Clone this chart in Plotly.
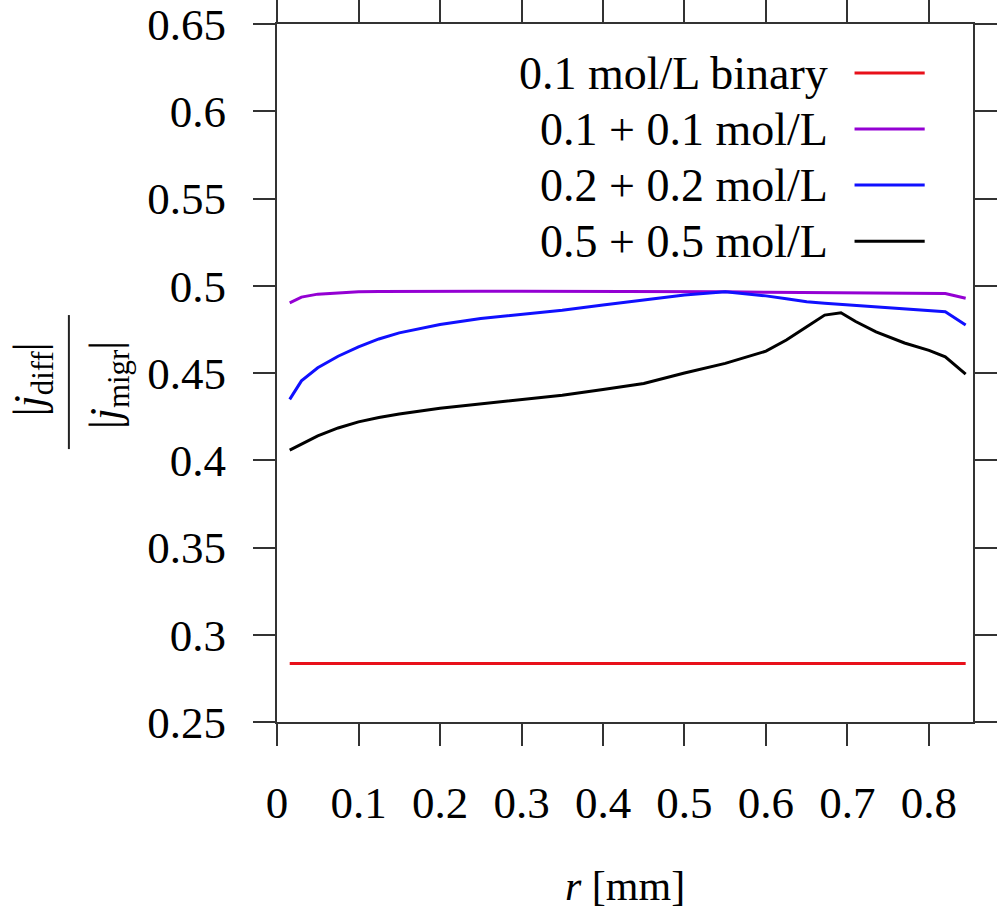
import plotly.graph_objects as go

r_mm = [0.0156, 0.03, 0.05, 0.075, 0.1, 0.125, 0.15, 0.2, 0.25, 0.3, 0.35, 0.4, 0.45,
        0.5, 0.55, 0.6, 0.625, 0.65, 0.672, 0.692, 0.71, 0.735, 0.77, 0.8, 0.82, 0.845]

binary_01 = [0.2835] * len(r_mm)
mix_01 = [0.4902, 0.4935, 0.4952, 0.4960, 0.4965, 0.4967, 0.4968, 0.4970, 0.4969, 0.4968,
          0.4968, 0.4967, 0.4967, 0.4966, 0.4965, 0.4963, 0.4962, 0.4961, 0.4960, 0.4959,
          0.4958, 0.4958, 0.4957, 0.4956, 0.4955, 0.4928]
mix_02 = [0.4349, 0.4455, 0.4530, 0.4596, 0.4650, 0.4695, 0.4730, 0.4778, 0.4812, 0.4836,
          0.4860, 0.4890, 0.4918, 0.4947, 0.4966, 0.4942, 0.4925, 0.4908, 0.4900, 0.4893,
          0.4888, 0.4880, 0.4868, 0.4858, 0.4851, 0.4775]
mix_05 = [0.4058, 0.4092, 0.4140, 0.4185, 0.4220, 0.4245, 0.4265, 0.4298, 0.4322, 0.4348,
          0.4372, 0.4405, 0.4440, 0.4500, 0.4555, 0.4625, 0.4689, 0.4765, 0.4832, 0.4845,
          0.4795, 0.4736, 0.4672, 0.4630, 0.4593, 0.4494]

names = ["0.1 mol/L binary", "0.1 + 0.1 mol/L", "0.2 + 0.2 mol/L", "0.5 + 0.5 mol/L"]
series = [binary_01, mix_01, mix_02, mix_05]
colors = ["#e8101a", "#9400d3", "#1010ff", "#000000"]

x_ticks = [0, 0.1, 0.2, 0.3, 0.4, 0.5, 0.6, 0.7, 0.8]
x_tick_labels = ["0", "0.1", "0.2", "0.3", "0.4", "0.5", "0.6", "0.7", "0.8"]
y_ticks = [0.25, 0.3, 0.35, 0.4, 0.45, 0.5, 0.55, 0.6, 0.65]
y_tick_labels = ["0.25", "0.3", "0.35", "0.4", "0.45", "0.5", "0.55", "0.6", "0.65"]

FONT = "Liberation Serif"
AX = "#333333"

fig = go.Figure()
for name, ys, c in zip(names, series, colors):
    fig.add_trace(go.Scatter(x=r_mm, y=ys, mode="lines", name=name,
                             line=dict(color=c, width=3), showlegend=False))

# manual legend (text right-aligned, sample on the right)
leg_y = [0.9297, 0.8494, 0.7692, 0.6889]
for name, c, ly in zip(names, colors, leg_y):
    fig.add_annotation(xref="paper", yref="paper", x=0.7945, y=ly, text=name,
                       showarrow=False, xanchor="right", yanchor="middle",
                       font=dict(family=FONT, size=46, color="black"))
    fig.add_shape(type="line", xref="paper", yref="paper", x0=0.8298, x1=0.9306,
                  y0=ly, y1=ly, line=dict(color=c, width=3))

# y-axis label as a fraction
fig.add_annotation(xref="paper", yref="paper", x=-0.352, y=0.491,
                   text="|<i>j</i><sub>diff</sub>|", textangle=-90, showarrow=False,
                   xanchor="center", yanchor="middle",
                   font=dict(family=FONT, size=44, color="black"))
fig.add_annotation(xref="paper", yref="paper", x=-0.243, y=0.4826,
                   text="|<i>j</i><sub>migr</sub>|", textangle=-90, showarrow=False,
                   xanchor="center", yanchor="middle",
                   font=dict(family=FONT, size=44, color="black"))
fig.add_shape(type="line", xref="paper", yref="paper", x0=-0.299, x1=-0.299,
              y0=0.391, y1=0.583, line=dict(color="#222222", width=2))

# x-axis title
fig.add_annotation(xref="paper", yref="paper", x=0.5, y=-0.2355,
                   text="<i>r</i> [mm]", showarrow=False, xanchor="center", yanchor="middle",
                   font=dict(family=FONT, size=42, color="black"))

axis_common = dict(showgrid=False, zeroline=False, showline=True, linecolor=AX, linewidth=2,
                   mirror="ticks", ticks="outside", ticklen=22, tickwidth=2, tickcolor=AX,
                   automargin=False, ticklabeloverflow="allow",
                   tickfont=dict(family=FONT, size=45, color="black"))

fig.update_xaxes(range=[0, 0.854], tickvals=x_ticks, ticktext=x_tick_labels,
                 ticklabelstandoff=18, **axis_common)
fig.update_yaxes(range=[0.25, 0.65], tickvals=y_ticks, ticktext=y_tick_labels,
                 ticklabelstandoff=18, **axis_common)

fig.update_layout(width=1000, height=913, margin=dict(l=277, r=27, t=24, b=191),
                  plot_bgcolor="white", paper_bgcolor="white",
                  font=dict(family=FONT, color="black"))

fig.write_html("out.html")
